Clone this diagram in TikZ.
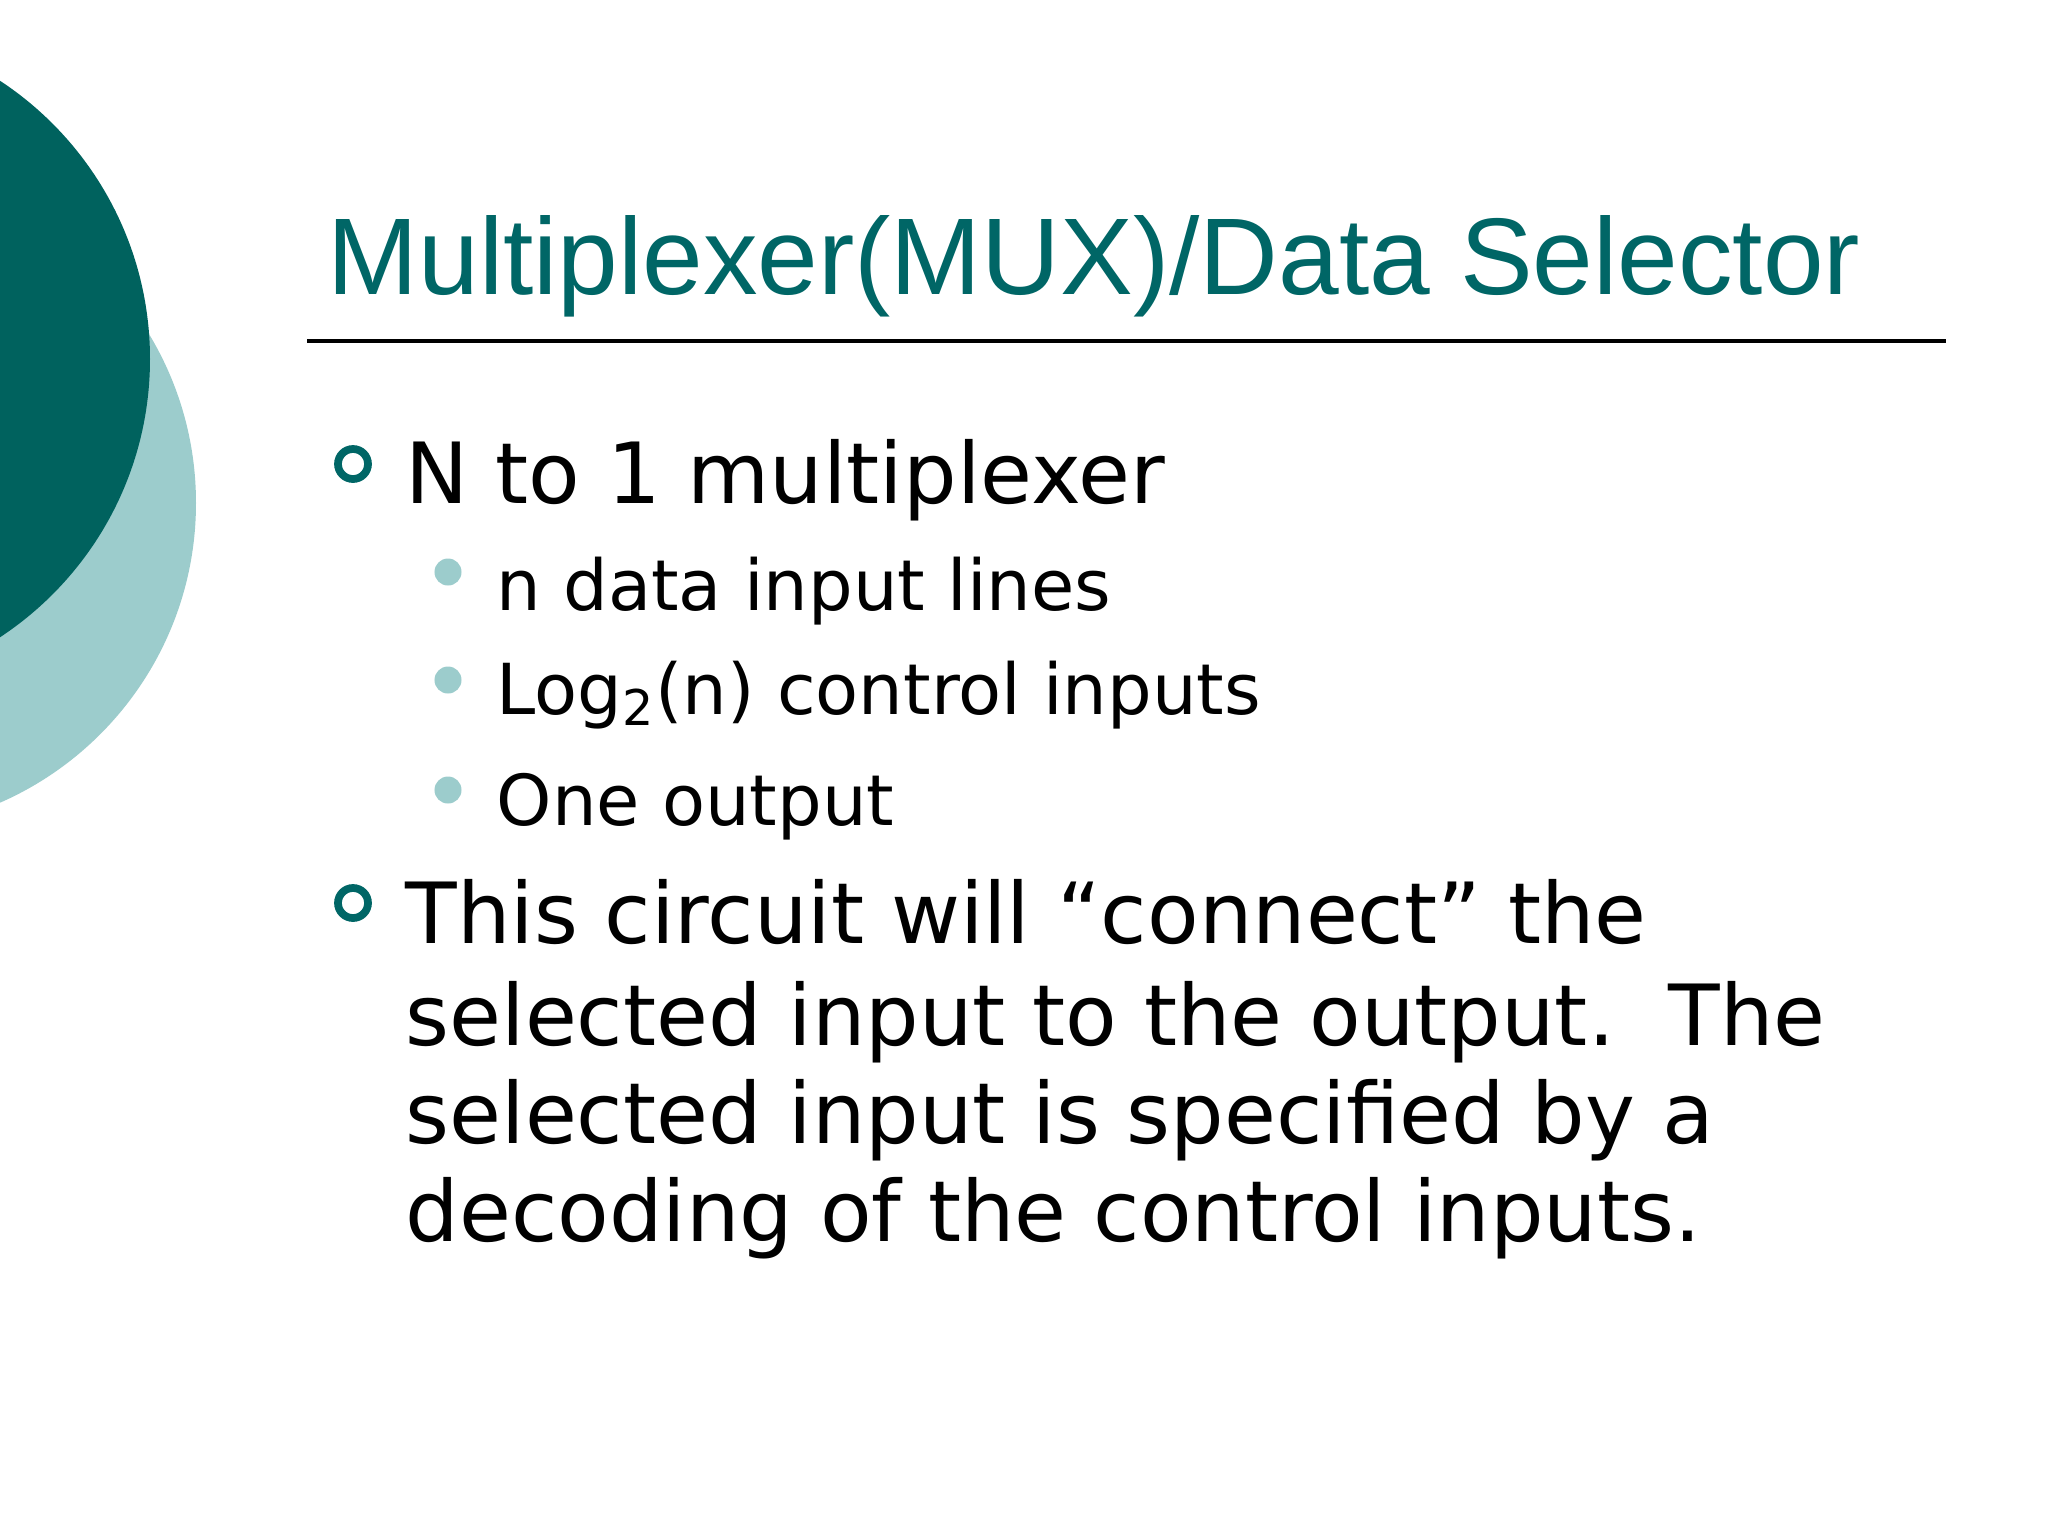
\documentclass[tikz,border=0pt]{standalone}
\usepackage{fontspec}
\setmainfont{DejaVu Sans}
\newfontfamily\titlefont{Liberation Sans}
\definecolor{darkteal}{RGB}{0,98,94}
\definecolor{lightteal}{RGB}{156,204,204}
\definecolor{titleteal}{RGB}{0,102,102}
\begin{document}
\begin{tikzpicture}[x=0.01cm,y=-0.01cm,
  txt/.style={anchor=base west,inner sep=0pt,font=\fontsize{24}{29}\selectfont},
  subtxt/.style={anchor=base west,inner sep=0pt,font=\fontsize{20}{24}\selectfont},
  ring/.style={draw=titleteal,line width=2.2pt,circle,minimum size=0.3cm,inner sep=0pt},
  dot/.style={fill=lightteal,circle,minimum size=0.27cm,inner sep=0pt}]
\clip (0,0) rectangle (2048,1536);
\fill[white] (0,0) rectangle (2048,1536);
\fill[lightteal] (-131,503) circle (327);
\fill[darkteal] (-183,359) circle (333);
\node[anchor=base west,inner sep=0pt,text=titleteal,font=\titlefont\fontsize{31}{37}\selectfont] (title) at (327,294) {Multiplexer(MUX)/Data Selector};
\coordinate (l1) at (307,341); \coordinate (l2) at (1946,341);
\draw[line width=1pt] (l1) -- (l2);
\node[ring] (b1) at (353,464) {};
\node[txt] (t1) at (405,503) {N to 1 multiplexer};
\node[dot] (s1) at (448,572) {};
\node[subtxt] (u1) at (496,610) {n data input lines};
\node[dot] (s2) at (448,680) {};
\node[subtxt] (u2) at (496,714) {Log\textsubscript{2}(n) control inputs};
\node[dot] (s3) at (448,790) {};
\node[subtxt] (u3) at (496,825) {One output};
\node[ring] (b2) at (353,903) {};
\node[txt] (p1) at (405,943) {This circuit will “connect” the};
\node[txt] (p2) at (405,1045) {selected input to the output.\ \ The};
\node[txt] (p3) at (405,1143) {selected input is specified by a};
\node[txt] (p4) at (405,1241) {decoding of the control inputs.};
\end{tikzpicture}
\end{document}
